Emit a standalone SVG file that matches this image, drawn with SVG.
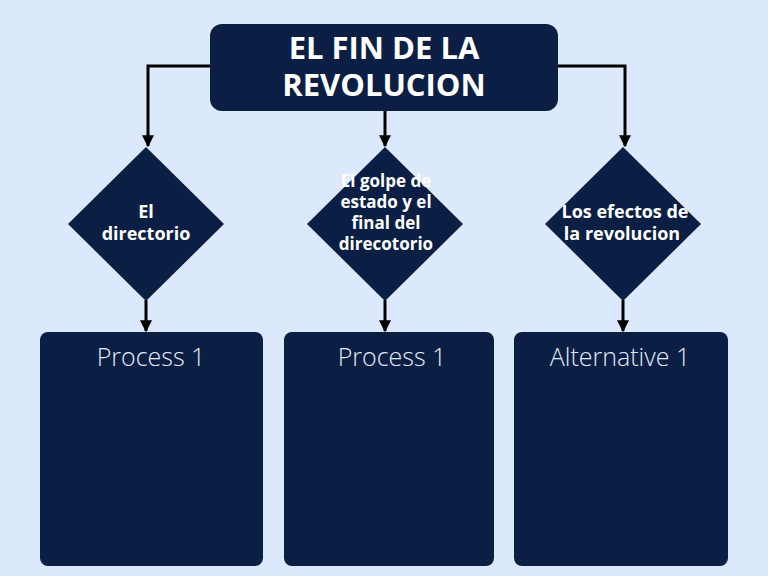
<svg xmlns="http://www.w3.org/2000/svg" width="768" height="576" viewBox="0 0 768 576">
<defs>
<marker id="ar" viewBox="0 0 10 10" refX="9" refY="5" markerWidth="4" markerHeight="4" orient="auto"><path d="M0,0L10,5L0,10z" fill="#000"/></marker>
<style>
.n{fill:#0b1f45}
.t{font-family:"Open Sans",sans-serif;font-weight:bold;fill:#fff;text-anchor:middle}
.p{font-family:"Open Sans",sans-serif;font-weight:300;fill:#e4ebf7;text-anchor:middle;font-size:25px}
.c{fill:none;stroke:#000;stroke-width:3;marker-end:url(#ar)}
</style>
</defs>
<rect width="768" height="576" fill="#dce8fb"/>
<g id="connectors">
<path class="c" d="M210,66H148V146"/>
<path class="c" d="M385,111V146"/>
<path class="c" d="M558,66H625V146"/>
<path class="c" d="M146,300V331"/>
<path class="c" d="M385,300V331"/>
<path class="c" d="M623,300V331"/>
</g>
<g id="title"><rect class="n" x="210" y="24" width="348" height="87" rx="12"/>
<text class="t" font-size="31" x="384" y="59">EL FIN DE LA</text><text class="t" font-size="31" x="384" y="96">REVOLUCION</text></g>
<g id="d1"><path class="n" d="M146,147L224,224L146,301L68,224z"/><text class="t" font-size="18" x="146" y="218">El</text><text class="t" font-size="18" x="146" y="240">directorio</text></g>
<g id="d2"><path class="n" d="M385,147L463,224L385,301L307,224z"/><text class="t" font-size="17" x="386" y="187">El golpe de</text><text class="t" font-size="17" x="386" y="208">estado y el</text><text class="t" font-size="17" x="386" y="229">final del</text><text class="t" font-size="17" x="386" y="250">direcotorio</text></g>
<g id="d3"><path class="n" d="M623,147L701,224L623,301L545,224z"/><text class="t" font-size="18" x="625" y="218">Los efectos de</text><text class="t" font-size="18" x="622" y="240">la revolucion</text></g>
<g id="b1"><rect class="n" x="40" y="332" width="223" height="234" rx="8"/><text class="p" x="151" y="366">Process 1</text></g>
<g id="b2"><rect class="n" x="284" y="332" width="210" height="234" rx="8"/><text class="p" x="392" y="366">Process 1</text></g>
<g id="b3"><rect class="n" x="514" y="332" width="214" height="234" rx="8"/><text class="p" x="620" y="366">Alternative 1</text></g>
</svg>
